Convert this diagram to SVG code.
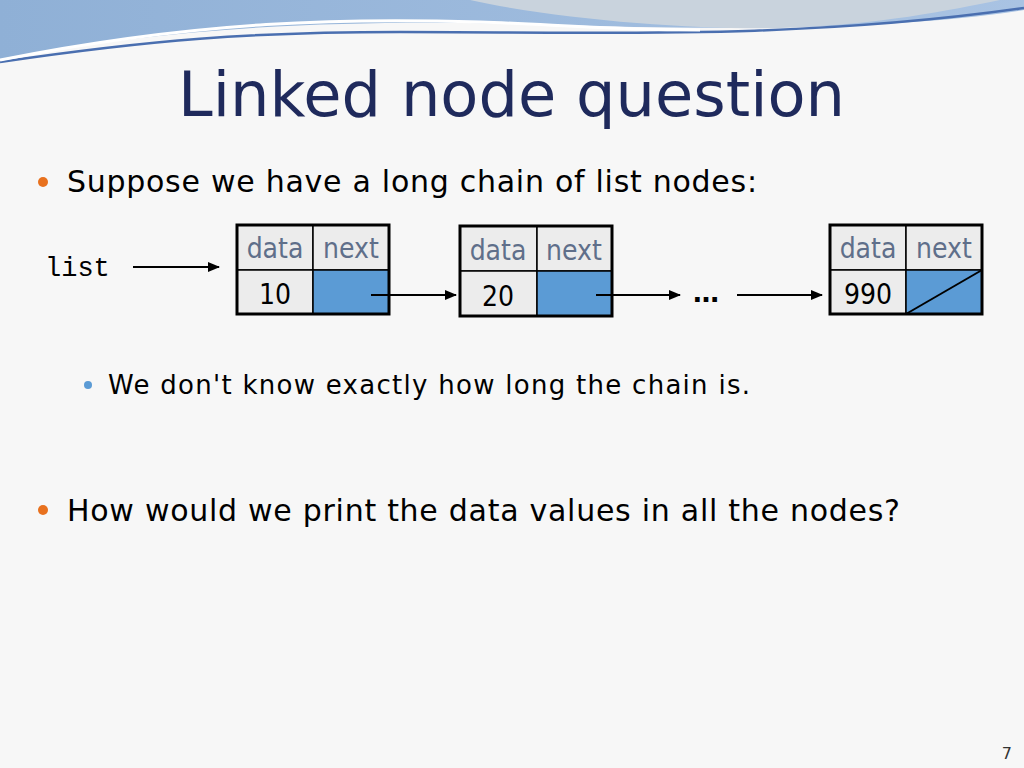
<svg xmlns="http://www.w3.org/2000/svg" width="1024" height="768" viewBox="0 0 1024 768">
<defs>
<linearGradient id="bg" x1="0" y1="0" x2="1" y2="0"><stop offset="0" stop-color="#8fb0d6"/><stop offset="1" stop-color="#a9c3e3"/></linearGradient>
<marker id="ah" markerWidth="12" markerHeight="10" refX="11" refY="5" orient="auto" markerUnits="userSpaceOnUse"><path d="M0,0 L12,5 L0,10 Z" fill="#000"/></marker>
</defs>
<style>
.cell{fill:#ececec;stroke:#000;stroke-width:1.5}
.blue{fill:#5b9bd5;stroke:#000;stroke-width:1.5}
.box{fill:none;stroke:#000;stroke-width:3}
.hd{font-family:"DejaVu Sans Condensed","DejaVu Sans",sans-serif;font-size:28px;fill:#5f6f8a;text-anchor:middle}
.val{font-family:"DejaVu Sans Condensed","DejaVu Sans",sans-serif;font-size:28px;fill:#000;text-anchor:middle}
.txt{font-family:"DejaVu Sans",Verdana,sans-serif;fill:#000}
.conn{stroke:#000;stroke-width:2;fill:none;marker-end:url(#ah)}
</style>
<rect width="1024" height="768" fill="#f7f7f7"/>
<path d="M0,0 H1024 V10 C900,30 700,30 560,25 C400,20 200,20 0,60 Z" fill="url(#bg)"/>
<path d="M470,0 C560,20 700,30 780,28 C880,25 950,10 1000,0 Z" fill="#c9d3dd"/>
<path d="M0,62 C150,40 250,32 400,32 C600,32 800,40 1024,8" stroke="#4a6fb0" stroke-width="2.5" fill="none"/>
<path d="M0,60 C200,20 350,18 480,22 C550,24 600,30 700,30" stroke="#fff" stroke-width="3" fill="none"/>
<text x="178" y="116" font-family="'DejaVu Sans',Verdana,sans-serif" font-size="62" fill="#1f2a5c" textLength="667" lengthAdjust="spacingAndGlyphs">Linked node question</text>
<circle cx="43" cy="182" r="5" fill="#e8711e"/>
<text class="txt" x="67" y="192" font-size="30" textLength="690" lengthAdjust="spacing">Suppose we have a long chain of list nodes:</text>
<circle cx="88" cy="385" r="4" fill="#5b9bd5"/>
<text class="txt" x="108" y="394" font-size="26" textLength="642" lengthAdjust="spacing">We don't know exactly how long the chain is.</text>
<circle cx="43" cy="510" r="5" fill="#e8711e"/>
<text class="txt" x="67" y="521" font-size="30" textLength="833" lengthAdjust="spacing">How would we print the data values in all the nodes?</text>
<text x="1012" y="759" font-family="'DejaVu Sans',sans-serif" font-size="16" fill="#333" text-anchor="end">7</text>
<text x="45" y="276" font-family="'Liberation Mono',monospace" font-size="27" fill="#000">list</text>
<g id="node1">
<rect class="cell" x="237" y="225" width="76" height="45"/><rect class="cell" x="313" y="225" width="76" height="45"/>
<rect class="cell" x="237" y="270" width="76" height="44"/><rect class="blue" x="313" y="270" width="76" height="44"/>
<rect class="box" x="237" y="225" width="152" height="89"/>
<text class="hd" x="275" y="258">data</text><text class="hd" x="351" y="258">next</text><text class="val" x="275" y="304">10</text>
</g>
<g id="node2">
<rect class="cell" x="460" y="226" width="77" height="45"/><rect class="cell" x="537" y="226" width="75" height="45"/>
<rect class="cell" x="460" y="271" width="77" height="45"/><rect class="blue" x="537" y="271" width="75" height="45"/>
<rect class="box" x="460" y="226" width="152" height="90"/>
<text class="hd" x="498" y="260">data</text><text class="hd" x="574" y="260">next</text><text class="val" x="498" y="306">20</text>
</g>
<g id="node3">
<rect class="cell" x="830" y="225" width="76" height="45"/><rect class="cell" x="906" y="225" width="76" height="45"/>
<rect class="cell" x="830" y="270" width="76" height="44"/><rect class="blue" x="906" y="270" width="76" height="44"/>
<rect class="box" x="830" y="225" width="152" height="89"/>
<line x1="906" y1="314" x2="982" y2="270" stroke="#000" stroke-width="2"/>
<text class="hd" x="868" y="258">data</text><text class="hd" x="944" y="258">next</text><text class="val" x="868" y="304">990</text>
</g>
<text x="706" y="302" font-family="'DejaVu Sans',sans-serif" font-weight="bold" font-size="26" text-anchor="middle">…</text>
<g id="connectors">
<line class="conn" x1="133" y1="267" x2="219" y2="267"/>
<line class="conn" x1="371" y1="295" x2="456" y2="295"/>
<line class="conn" x1="596" y1="295" x2="680" y2="295"/>
<line class="conn" x1="737" y1="295" x2="822" y2="295"/>
</g>
</svg>
